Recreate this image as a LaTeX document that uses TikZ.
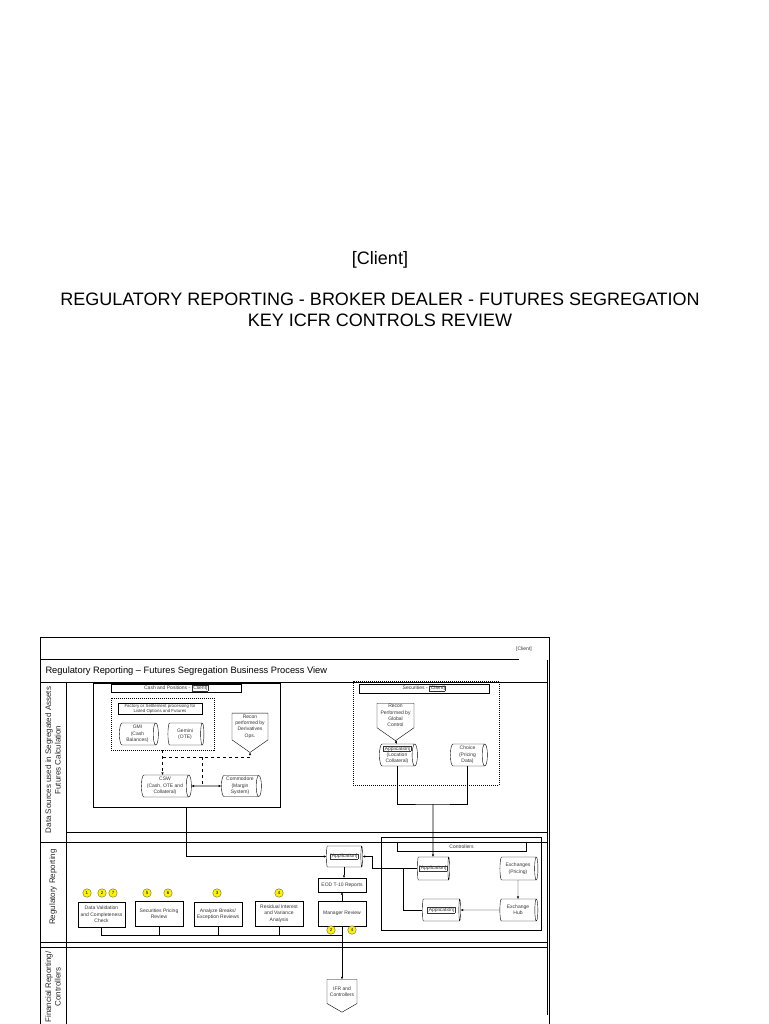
\documentclass[tikz,border=0pt]{standalone}
\usepackage{fontspec}
\setmainfont{Liberation Sans}
\usetikzlibrary{shapes.geometric,shapes.symbols,arrows.meta}
\newcommand{\boxfont}{\fontsize{5}{6.4}\selectfont}
\newcommand{\tagbox}[1]{{\setlength{\fboxsep}{0.2pt}\setlength{\fboxrule}{0.15pt}\fbox{#1}}}
\tikzset{
  procbox/.style={draw, line width=0.4pt, inner sep=0pt, align=center, font=\boxfont, text=black!80},
  store/.style={cylinder, draw, line width=0.4pt, inner sep=0pt, align=center, font=\boxfont, text=black!80, shape aspect=0.3},
  offpage/.style={signal, signal to=south, signal from=nowhere, draw, line width=0.4pt, inner sep=0pt, align=center, font=\boxfont, text=black!80},
  marker/.style={circle, draw=black!70, fill=yellow, line width=0.3pt, inner sep=0pt, minimum size=8.5pt, font=\fontsize{4.5}{5}\selectfont},
  lanelabel/.style={rotate=90, align=center, font=\fontsize{8}{9.5}\selectfont, text=black!85},
  arr/.style={-{Triangle[length=2.5pt,width=2.2pt]}},
}
\begin{document}
\begin{tikzpicture}[x=1pt,y=-1pt]
  \useasboundingbox (0,0) rectangle (768,1024);
  \node[font=\fontsize{18}{21}\selectfont] (client) at (380,260) {[Client]};
  \node[align=center, font=\fontsize{18}{21}\selectfont] (title) at (380,309.5) {REGULATORY REPORTING - BROKER DEALER - FUTURES SEGREGATION\\ KEY ICFR CONTROLS REVIEW};

  % swimlane frame
  \draw[line width=0.6pt] (40,637) rectangle (549,1040);
  \draw[line width=0.6pt] (40,659) -- (519,659);
  \draw[line width=1pt] (40,682) -- (547,682);
  \draw[line width=1pt] (547,660) -- (547,1015);
  \draw (66,682) -- (66,1040);
  \draw (66,832) -- (547,832);
  \draw (40,842) -- (547,842);
  \draw (40,942) -- (547,942);
  \draw (40,947) -- (547,947);
  \node[font=\boxfont, text=black!80] (hdrclient) at (524,649) {[Client]};
  \node[anchor=west, font=\fontsize{9.3}{10}\selectfont] (viewtitle) at (42,671) {Regulatory Reporting -- Futures Segregation Business Process View};
  \node[lanelabel] (lanedata) at (53,760) {Data Sources used in Segregated Assets\\ Futures Calculation};
  \node[lanelabel] (lanereg) at (53,887) {Regulatory Reporting};
  \node[lanelabel] (lanefin) at (53,987) {Financial Reporting/\\ Controllers};

  % cash and positions
  \draw[line width=0.5pt] (93,683) rectangle (280,807);
  \node[procbox, minimum width=130pt, minimum height=8pt] (cashbar) at (176,688) {Cash and Positions - \tagbox{[Client]}};
  \draw[dashed, dash pattern=on 1pt off 1pt, line width=0.4pt] (111,698) rectangle (214,750);
  \coordinate (factory) at (162.5,750);
  \node[procbox, minimum width=84pt, minimum height=11pt, font=\fontsize{4.4}{5.2}\selectfont] (factorybar) at (160,708.5) {Factory or Settlement processing for\\ Listed Options and Futures};
  \node[store, minimum height=39pt, minimum width=22pt] (gmi) at (137.5,734) {GMI\\ (Cash\\ Balances)};
  \node[store, minimum height=36pt, minimum width=22pt] (gemini) at (185,734) {Gemini\\ (OTE)};
  \node[offpage, minimum width=36pt, minimum height=37pt, signal pointer angle=110] (recond) at (250,726.5) {Recon\\ performed by\\ Derivatives\\ Ops.};
  \node[store, minimum height=50pt, minimum width=22pt] (csw) at (165,786) {CSW\\ (Cash, OTE and\\ Collateral)};
  \node[store, minimum height=40pt, minimum width=21pt] (commodore) at (240,786) {Commodore\\ (Margin\\ System)};
  \coordinate (dsplit) at (162.5,757);
  \coordinate (dmid) at (202,757);
  \coordinate (dlink) at (202,786);
  \draw[dashed, arr] (factory) -- (factory |- csw.north);
  \draw[dashed, arr] (dsplit) -| (recond.south);
  \draw[dashed] (dmid) -- (dlink);
  \draw[{Triangle[length=2.5pt,width=2.2pt]}-{Triangle[length=2.5pt,width=2.2pt]}, line width=0.8pt] (csw.east) -- (commodore.west);
  \coordinate (cashout) at (186,807);

  % securities
  \draw[dashed, dash pattern=on 1pt off 1pt, line width=0.4pt] (353,681) rectangle (499,785);
  \node[procbox, minimum width=130pt, minimum height=9pt] (secbar) at (424,688.5) {Securities - \tagbox{[Client]}};
  \node[offpage, minimum width=37pt, minimum height=35pt, signal pointer angle=110] (reconglobal) at (395.5,715.5) {Recon\\ Performed by\\ Global\\ Control};
  \node[store, minimum height=38pt, minimum width=22pt] (apploc) at (397,755) {\tagbox{[Application]}\\ (Location\\ Collateral)};
  \node[store, minimum height=37pt, minimum width=22pt] (choice) at (467.5,755) {Choice\\ (Pricing\\ Data)};
  \coordinate (secjoin) at (433,804);
  \draw[arr] (reconglobal.south) -- (apploc.north);
  \draw (apploc.south) |- (secjoin) -| (choice.south);

  % controllers
  \draw[line width=0.5pt] (381,837) rectangle (541,930);
  \node[procbox, minimum width=129pt, minimum height=9pt] (ctlbar) at (461.5,846.5) {Controllers};
  \node[store, minimum height=32pt, minimum width=23pt] (appctl) at (433,868.5) {\tagbox{[Application]}};
  \node[store, minimum height=38pt, minimum width=23pt] (exchanges) at (518,868.5) {Exchanges\\ (Pricing)};
  \node[store, minimum height=38pt, minimum width=22pt] (hub) at (518,910) {Exchange\\ Hub};
  \node[store, minimum height=38pt, minimum width=22pt] (applow) at (441,910) {\tagbox{[Application]}};
  \node[store, minimum height=36pt, minimum width=21pt] (app1) at (344,856.5) {\tagbox{[Application]}};
  \draw[arr, line width=0.6pt] (secjoin) -- (appctl.north);
  \draw[arr] (exchanges.south) -- (hub.north);
  \draw[arr] (hub.west) -- (applow.east);
  \coordinate (ctljoin) at (403,868.5);
  \coordinate (ctlbend) at (372,868.5);
  \draw (applow.west) -| (ctljoin);
  \draw[arr, line width=0.6pt] (appctl.west) -- (ctlbend) |- (app1.east);

  % regulatory reporting
  \node[procbox, minimum width=48pt, minimum height=14pt] (eod) at (342,885) {EOD T-10 Reports};
  \node[procbox, minimum width=48pt, minimum height=25pt] (mgr) at (342,913.5) {Manager Review};
  \node[procbox, minimum width=47pt, minimum height=25pt] (datacheck) at (101.5,914.5) {Data Validation\\ and Completeness\\ Check};
  \node[procbox, minimum width=48pt, minimum height=25pt] (pricing) at (159,913.5) {Securities Pricing\\ Review};
  \node[procbox, minimum width=48pt, minimum height=24pt] (breaks) at (218,914) {Analyze Breaks/\\ Exception Reviews};
  \node[procbox, minimum width=48pt, minimum height=25pt] (residual) at (279,913.5) {Residual Interest\\ and Variance\\ Analysis};
  \node[offpage, minimum width=30pt, minimum height=31pt, signal pointer angle=120] (ifr) at (342,991.5) {IFR and\\ Controllers};
  \draw[arr, line width=0.6pt] (cashout) |- (app1.west);
  \draw[arr] (app1.south) -- (app1.south |- eod.north);
  \draw[arr] (mgr.north) -- (eod.south);
  \draw[arr, line width=0.6pt] (mgr.south) -- (ifr.north);
  \coordinate (bus) at (342,935);
  \draw (datacheck.south) |- (bus);
  \foreach \b in {pricing, breaks, residual}
  {
    \draw (\b.south) -- (\b.south |- bus);
  }
  \foreach \x/\n in {87/1, 102/2, 113/7, 147/5, 168/6, 217/3, 279/4}
  {
    \node[marker] (m\n-\x) at (\x,893) {\n};
  }
  \node[marker] (mgrtwo) at (331,930) {2};
  \node[marker] (mgrfour) at (352,930) {4};
\end{tikzpicture}
\end{document}
